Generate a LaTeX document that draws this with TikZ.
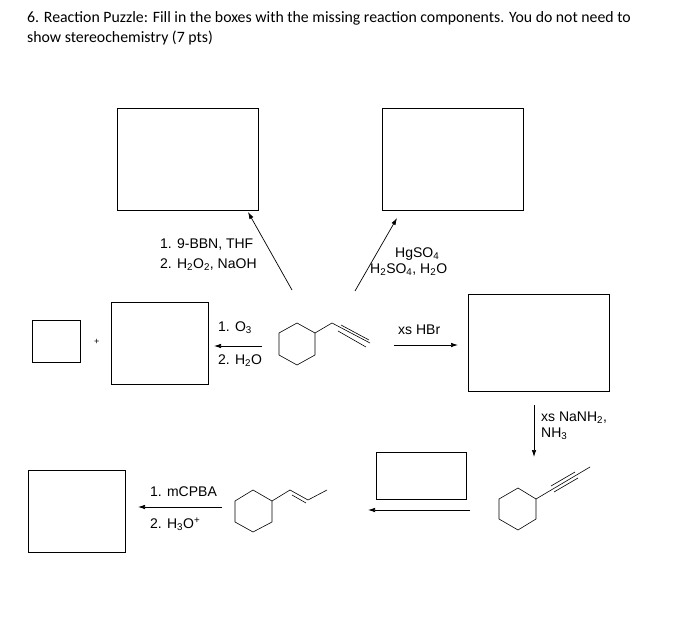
\documentclass[tikz,border=0pt]{standalone}
\usepackage{fontspec}
\usetikzlibrary{arrows.meta}
\setmainfont{Liberation Sans}
\newfontfamily\titlefont{Carlito}
\newcommand{\sbs}[1]{\textsubscript{#1}}
\newcommand{\sps}[1]{\textsuperscript{#1}}
\begin{document}
\begin{tikzpicture}[x=1pt,y=-1pt,
  box/.style={draw,line width=0.8pt},
  rx/.style={draw,line width=0.7pt,-{Latex[length=7pt,width=4.5pt]}},
  bond/.style={line width=0.6pt},
  lbl/.style={anchor=west,inner sep=0pt,font=\fontsize{14}{16}\selectfont},
  ttl/.style={anchor=west,inner sep=0pt,font=\titlefont\fontsize{15.8}{18}\selectfont}]
\useasboundingbox (0,0) rectangle (680,623);
\node[ttl] (t1) at (27,18) {6. Reaction Puzzle: Fill in the boxes with the missing reaction components. You do not need to};
\node[ttl] (t2) at (27,38) {show stereochemistry (7 pts)};
% boxes
\draw[box] (117,108) rectangle (258,210);
\draw[box] (382,108) rectangle (523,210);
\draw[box] (32,320) rectangle (80,362);
\draw[box] (111,302) rectangle (208,384);
\draw[box] (468,294) rectangle (609,391);
\draw[box] (28,470) rectangle (125,552);
\draw[box] (376,452) rectangle (466,499);
\node[lbl,font=\fontsize{9}{9}\selectfont] (plus) at (94,342) {+};
% arrows
\coordinate (a1s) at (292,290); \coordinate (a1e) at (248,212);
\draw[rx] (a1s) -- (a1e);
\coordinate (a2s) at (355,291); \coordinate (a2e) at (397,218);
\draw[rx] (a2s) -- (a2e);
\coordinate (a3s) at (262,346); \coordinate (a3e) at (214,346);
\draw[rx] (a3s) -- (a3e);
\coordinate (a4s) at (394,345); \coordinate (a4e) at (458,345);
\draw[rx] (a4s) -- (a4e);
\coordinate (a5s) at (534,405); \coordinate (a5e) at (534,457);
\draw[rx] (a5s) -- (a5e);
\coordinate (a6s) at (222,507); \coordinate (a6e) at (138,507);
\draw[rx] (a6s) -- (a6e);
\coordinate (a7s) at (470,510); \coordinate (a7e) at (368,510);
\draw[rx] (a7s) -- (a7e);
% labels
\node[lbl] (l1) at (160,245) {1. 9-BBN, THF};
\node[lbl] (l2) at (160,265) {2. H\sbs{2}O\sbs{2}, NaOH};
\node[lbl] (l3) at (395,254) {HgSO\sbs{4}};
\node[lbl] (l4) at (370,270) {H\sbs{2}SO\sbs{4}, H\sbs{2}O};
\node[lbl] (l5) at (218,328) {1. O\sbs{3}};
\node[lbl] (l6) at (218,361) {2. H\sbs{2}O};
\node[lbl] (l7) at (398,330) {xs HBr};
\node[lbl] (l8) at (541,418) {xs NaNH\sbs{2},};
\node[lbl] (l9) at (541,434) {NH\sbs{3}};
\node[lbl] (l10) at (150,492) {1. mCPBA};
\node[lbl] (l11) at (150,524) {2. H\sbs{3}O\sps{+}};
% molecule 1
\begin{scope}[bond]
\draw (297,323) -- (315,333) -- (315,355) -- (297,365) -- (279,355) -- (279,333) -- cycle;
\draw (315,333) -- (332,323) -- (370,343);
\draw (338,331) -- (366,347);
\draw (341,325) -- (369,340);
% molecule 2
\draw (253,490) -- (272,501) -- (272,522) -- (253,532) -- (235,522) -- (235,501) -- cycle;
\draw (272,501) -- (290,490) -- (308,500) -- (327,490);
\draw (292,495) -- (306,503);
% molecule 3
\draw (518,488) -- (536,499) -- (536,519) -- (518,530) -- (499,519) -- (499,499) -- cycle;
\draw (536,499) -- (590,467);
\draw (554,492) -- (578,478);
\draw (551,486) -- (575,472);
\end{scope}
\end{tikzpicture}
\end{document}
